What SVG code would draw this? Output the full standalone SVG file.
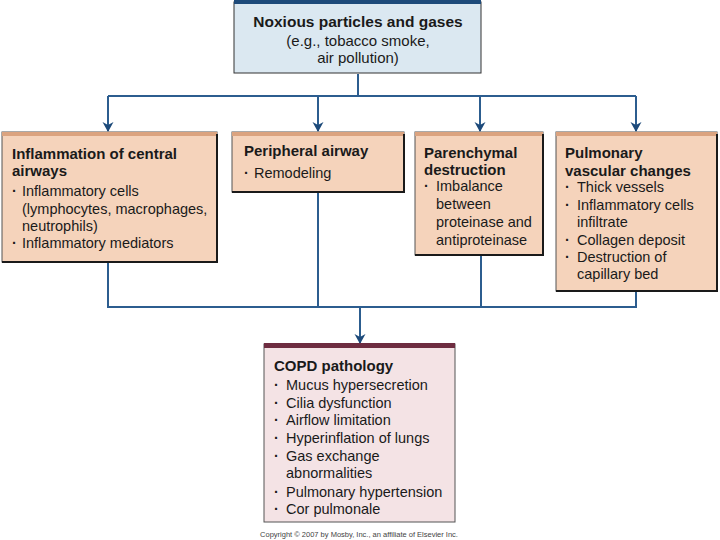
<svg xmlns="http://www.w3.org/2000/svg" width="720" height="540" viewBox="0 0 720 540">
<style>
text{font-family:"Liberation Sans",Arial,sans-serif;fill:#1a1a1a}
.t{font-weight:bold;font-size:15px}
.b{font-size:14.5px}
.d{font-size:14.5px;font-weight:bold}
.tt{font-weight:bold;font-size:15.5px}
.top{font-size:15px}
.conn{stroke:#2c5d8f;stroke-width:2;fill:none}
.peach{fill:#f5d3bb;stroke:#555;stroke-width:1}
.cap{fill:#dba37f}
.shadow{stroke:#1a1a1a;stroke-width:2;fill:none}
</style>
<defs>
<marker id="ah" viewBox="0 0 10 12" refX="9" refY="6" markerWidth="6" markerHeight="6" orient="auto" markerUnits="strokeWidth">
<path d="M0,0.5 L10,6 L0,11.5 L3,6 Z" fill="#1d4a7a"/>
</marker>
</defs>
<rect width="720" height="540" fill="#ffffff"/>

<g id="connectors">
<line class="conn" x1="358" y1="74" x2="358" y2="96"/>
<line class="conn" x1="108" y1="96" x2="636" y2="96"/>
<line class="conn" x1="108" y1="96" x2="108" y2="131" marker-end="url(#ah)"/>
<line class="conn" x1="318" y1="96" x2="318" y2="131" marker-end="url(#ah)"/>
<line class="conn" x1="480" y1="96" x2="480" y2="131" marker-end="url(#ah)"/>
<line class="conn" x1="636" y1="96" x2="636" y2="131" marker-end="url(#ah)"/>
<line class="conn" x1="108" y1="262" x2="108" y2="307"/>
<line class="conn" x1="318" y1="192" x2="318" y2="307"/>
<line class="conn" x1="481" y1="255" x2="481" y2="307"/>
<line class="conn" x1="636" y1="291" x2="636" y2="307"/>
<line class="conn" x1="107" y1="307" x2="637" y2="307"/>
<line class="conn" x1="360" y1="307" x2="360" y2="343" marker-end="url(#ah)"/>
</g>

<g id="noxious">
<rect x="234" y="2" width="247" height="71" fill="#dbe8f1" stroke="#333" stroke-width="1"/>
<rect x="234" y="0" width="247" height="4" fill="#1d4a7a"/>
<text class="tt" x="358" y="27" text-anchor="middle">Noxious particles and gases</text>
<text class="top" x="358" y="46" text-anchor="middle">(e.g., tobacco smoke,</text>
<text class="top" x="358" y="63" text-anchor="middle">air pollution)</text>
</g>

<g id="central">
<rect class="peach" x="2" y="132" width="215" height="130"/>
<rect class="cap" x="2" y="132" width="215" height="4"/>
<polyline class="shadow" points="217,134 217,262 2,262"/>
<text class="t" x="12" y="159">Inflammation of central</text>
<text class="t" x="12" y="176">airways</text>
<text class="d" x="12" y="196">·</text><text class="b" x="22" y="196">Inflammatory cells</text>
<text class="b" x="22" y="214">(lymphocytes, macrophages,</text>
<text class="b" x="22" y="231">neutrophils)</text>
<text class="d" x="12" y="248">·</text><text class="b" x="22" y="248">Inflammatory mediators</text>
</g>

<g id="peripheral">
<rect class="peach" x="232" y="132" width="172" height="60"/>
<rect class="cap" x="232" y="132" width="172" height="4"/>
<polyline class="shadow" points="404,134 404,192 232,192"/>
<text class="t" x="244" y="156">Peripheral airway</text>
<text class="d" x="244" y="178">·</text><text class="b" x="254" y="178">Remodeling</text>
</g>

<g id="parenchymal">
<rect class="peach" x="415" y="132" width="128" height="123"/>
<rect class="cap" x="415" y="132" width="128" height="4"/>
<polyline class="shadow" points="543,134 543,255 415,255"/>
<text class="t" x="424" y="158">Parenchymal</text>
<text class="t" x="424" y="175">destruction</text>
<text class="d" x="424" y="191">·</text><text class="b" x="436" y="191">Imbalance</text>
<text class="b" x="436" y="209">between</text>
<text class="b" x="436" y="227">proteinase and</text>
<text class="b" x="436" y="245">antiproteinase</text>
</g>

<g id="pulmonary">
<rect class="peach" x="556" y="132" width="161" height="159"/>
<rect class="cap" x="556" y="132" width="161" height="4"/>
<polyline class="shadow" points="717,134 717,291 556,291"/>
<text class="t" x="565" y="158">Pulmonary</text>
<text class="t" x="565" y="176">vascular changes</text>
<text class="d" x="565" y="192">·</text><text class="b" x="577" y="192">Thick vessels</text>
<text class="d" x="565" y="210">·</text><text class="b" x="577" y="210">Inflammatory cells</text>
<text class="b" x="577" y="227">infiltrate</text>
<text class="d" x="565" y="245">·</text><text class="b" x="577" y="245">Collagen deposit</text>
<text class="d" x="565" y="262">·</text><text class="b" x="577" y="262">Destruction of</text>
<text class="b" x="577" y="279">capillary bed</text>
</g>

<g id="copd">
<rect x="264" y="344" width="191" height="178" fill="#f4e3e5" stroke="#555" stroke-width="1"/>
<rect x="264" y="343" width="191" height="5" fill="#6e2c40"/>
<text class="t" x="274" y="371">COPD pathology</text>
<text class="d" x="274" y="390">·</text><text class="b" x="286" y="390">Mucus hypersecretion</text>
<text class="d" x="274" y="408">·</text><text class="b" x="286" y="408">Cilia dysfunction</text>
<text class="d" x="274" y="425">·</text><text class="b" x="286" y="425">Airflow limitation</text>
<text class="d" x="274" y="443">·</text><text class="b" x="286" y="443">Hyperinflation of lungs</text>
<text class="d" x="274" y="461">·</text><text class="b" x="286" y="461">Gas exchange</text>
<text class="b" x="286" y="478">abnormalities</text>
<text class="d" x="274" y="497">·</text><text class="b" x="286" y="497">Pulmonary hypertension</text>
<text class="d" x="274" y="514">·</text><text class="b" x="286" y="514">Cor pulmonale</text>
</g>

<text x="359" y="537" text-anchor="middle" style="font-size:7.5px;fill:#444">Copyright © 2007 by Mosby, Inc., an affiliate of Elsevier Inc.</text>
</svg>
